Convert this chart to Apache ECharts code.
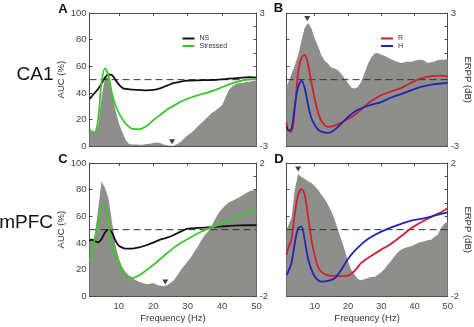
<!DOCTYPE html>
<html>
<head>
<meta charset="utf-8">
<script src="https://cdn.jsdelivr.net/npm/echarts@6/dist/echarts.min.js"></script>
<style>
  html, body { margin: 0; padding: 0; background: #fff; }
  #chart { width: 474px; height: 327px; }
</style>
</head>
<body>
<div id="chart"></div>
<script>
// Frequencies (Hz) at which the AUC curves are sampled
const lineFreq = [1.5, 2, 3, 4, 5, 6, 7, 8, 9, 10, 11, 12, 14, 16, 18, 20, 22, 24, 26, 28, 30, 33, 36, 39, 42, 45, 48, 50];
// Frequencies (Hz) at which the ERPP difference is sampled
const areaFreq = [1.5, 2, 3, 4, 5, 6, 7, 8, 9, 10, 11, 12, 13, 14, 15, 16, 17, 18, 19, 20, 21, 22, 23, 24, 25,
                  26, 27, 28, 29, 30, 31, 32, 33, 34, 35, 36, 37, 38, 39, 40, 41, 42, 43, 44, 45, 46, 47, 48, 49, 50];
const freqTicks = [10, 20, 30, 40, 50];
const chanceAUC = 50;

// CA1: AUC (%) for non-stressed and stressed animals
const aucNS_CA1 = [35.5, 37, 40, 43, 47, 51.5, 54, 53.5, 50, 46.5, 44, 43, 42.5, 42.3, 42, 42.3, 43.5, 45.5, 47.5, 48.5, 49.2, 49.5, 49.7, 50, 50.7, 51.3, 51.8, 51.5];
const aucStressed_CA1 = [13, 11.5, 10.5, 20, 48, 58.5, 53, 40, 31, 25, 20.5, 17, 13, 12.8, 15, 19.5, 23.5, 27.5, 30.5, 33.5, 35.8, 38.3, 40.5, 43.3, 46.5, 48.8, 50.2, 50.5];
// CA1: AUC (%) for resilient (R) and helpless (H) animals
const aucR_CA1 = [17.5, 12, 11, 28, 55, 66.5, 68.5, 61, 48, 35.5, 25.5, 19, 14.5, 15.5, 17.8, 20.5, 23.5, 27.5, 32, 35.5, 38.3, 41.2, 43.7, 47.7, 51, 52.6, 53, 52.5];
const aucH_CA1 = [15, 12, 13, 30, 44.5, 49.3, 43.5, 31, 21, 16, 12.5, 11, 10, 12.5, 17, 22, 26, 28.5, 30.5, 31.8, 33.2, 36.6, 39.2, 42, 44.5, 46.3, 47.1, 47.5];

// mPFC: AUC (%)
const aucNS_mPFC = [41.3, 42.5, 41.5, 40.5, 43, 47.8, 50, 48, 42, 38, 36.5, 35.8, 35.8, 36.7, 38.3, 40.3, 42.5, 44, 46, 48.5, 50.7, 51.3, 51.7, 52.2, 52.8, 53.2, 53.3, 53.3];
const aucStressed_mPFC = [25, 31, 43, 57, 67, 68.5, 53, 40, 30.5, 24, 19.5, 16, 13.8, 15.8, 19.5, 23.5, 27.8, 32.3, 36.5, 40, 43, 47.3, 50.8, 53.5, 56.7, 60, 63.2, 65];
const aucR_mPFC = [31, 36, 43, 62, 76, 80.5, 76, 60, 42.5, 30.5, 22, 18.3, 15.7, 15.2, 15.2, 15.5, 19, 25, 28.7, 32, 35, 39.5, 45, 51, 55.5, 59.5, 63, 66];
const aucH_mPFC = [16, 18.5, 25, 40, 51, 52.5, 42, 28, 20, 14.8, 12, 11, 11.5, 13.5, 20, 28, 34, 39, 43, 46, 48.5, 51.7, 54.4, 56.8, 58, 59.8, 61.8, 63];

// ERPP (dB), grey background of each panel
const erppStress_CA1 = [-2.35, -2.35, -2.35, -2.1, -0.8, 0.1, 0.1, -0.6, -1.35, -1.95, -2.35, -2.72, -2.9, -2.92, -2.92, -2.93, -2.93, -2.9, -2.88, -2.85,
                        -2.83, -2.85, -2.92, -2.95, -2.97, -2.97, -2.9, -2.8, -2.65, -2.5, -2.4, -2.25, -2.1, -1.95, -1.8, -1.65, -1.5, -1.4, -1.28, -1.15,
                        -0.8, -0.45, -0.3, -0.2, -0.15, -0.15, -0.1, -0.1, -0.05, -0.05];
const erppRH_CA1 = [-0.3, -0.15, 0.25, 0.65, 1.1, 1.75, 2.35, 2.55, 2.3, 1.85, 1.5, 1.1, 0.85, 0.72, 0.55, 0.5, 0.42, 0.25, 0.05, -0.15,
                    -0.35, -0.4, -0.33, -0.1, 0.3, 0.7, 1.0, 1.18, 1.2, 1.12, 1.08, 1.0, 0.92, 0.85, 0.8, 0.75, 0.78, 0.82, 0.8, 0.85,
                    0.88, 0.9, 0.85, 0.75, 0.78, 0.82, 0.88, 0.9, 0.9, 0.92];
const erppStress_mPFC = [-0.3, -0.3, -0.25, 0.6, 1.45, 1.25, 0.95, 0.25, -0.45, -0.85, -1.12, -1.28, -1.38, -1.45, -1.52, -1.57, -1.6, -1.63, -1.62, -1.6,
                         -1.65, -1.68, -1.7, -1.67, -1.6, -1.52, -1.37, -1.22, -1.08, -0.95, -0.82, -0.65, -0.5, -0.32, -0.15, -0.05, 0.12, 0.32, 0.5, 0.63,
                         0.73, 0.82, 0.87, 0.92, 0.97, 1.03, 1.1, 1.15, 1.18, 1.2];
const erppRH_mPFC = [0, 0.05, 0.35, 1.2, 1.68, 1.58, 1.52, 1.45, 1.4, 1.3, 1.2, 1.05, 0.92, 0.75, 0.55, 0.3, 0.0, -0.3, -0.6, -0.95,
                     -1.2, -1.35, -1.48, -1.52, -1.48, -1.45, -1.42, -1.42, -1.35, -1.28, -1.18, -1.05, -0.93, -0.8, -0.68, -0.6, -0.55, -0.52, -0.5, -0.45,
                     -0.4, -0.37, -0.35, -0.32, -0.3, -0.22, -0.15, 0.05, 0.18, 0.25];

// Peak-difference markers (frequency, dB) per panel
const peakFreq = [25.5, 7.75, 23.5, 5.0];
const peakDb = [-2.8, 2.75, -1.57, 1.82];

const FONT = '"Liberation Sans", Arial, Helvetica, sans-serif';
const AXIS_COLOR = '#4a4a4a';
const LABEL_COLOR = '#444';
const GREY = '#8e8e8a';
const COLORS = { NS: '#111111', Stressed: '#3cc72c', R: '#cf1f33', H: '#2324b8' };

const panels = [
  { left: 89.5, top: 13, dbMax: 3, aucLabels: true, erppName: false, freqLabels: false,
    lines: [['NS', aucNS_CA1], ['Stressed', aucStressed_CA1]], erpp: erppStress_CA1 },
  { left: 286.5, top: 13, dbMax: 3, aucLabels: false, erppName: true, freqLabels: false,
    lines: [['R', aucR_CA1], ['H', aucH_CA1]], erpp: erppRH_CA1 },
  { left: 89.5, top: 163, dbMax: 2, aucLabels: true, erppName: false, freqLabels: true,
    lines: [['NS', aucNS_mPFC], ['Stressed', aucStressed_mPFC]], erpp: erppStress_mPFC },
  { left: 286.5, top: 163, dbMax: 2, aucLabels: false, erppName: true, freqLabels: true,
    lines: [['R', aucR_mPFC], ['H', aucH_mPFC]], erpp: erppRH_mPFC }
];
const PW = 167, PH = 133.3;

const pairs = (xs, ys) => xs.map((x, i) => [x, ys[i]]);
const axisLine = { show: true, onZero: false, lineStyle: { color: AXIS_COLOR, width: 1 } };
const tick = { show: true, inside: true, length: 3, lineStyle: { color: AXIS_COLOR, width: 1 } };
const labelStyle = { fontFamily: FONT, fontSize: 9.5, color: LABEL_COLOR };
const nameStyle = { fontFamily: FONT, fontSize: 9.5, color: '#333' };

const grid = [], xAxis = [], yAxis = [], series = [];
panels.forEach((p, i) => {
  grid.push({ left: p.left, top: p.top, width: PW, height: PH });
  // bottom frequency axis
  xAxis.push({
    gridIndex: i, type: 'value', min: areaFreq[0], max: areaFreq[areaFreq.length - 1], position: 'bottom',
    axisLine, axisTick: Object.assign({ customValues: freqTicks }, tick),
    axisLabel: Object.assign({ show: p.freqLabels, customValues: freqTicks, margin: 5 }, labelStyle),
    splitLine: { show: false },
    name: p.freqLabels ? 'Frequency (Hz)' : '', nameLocation: 'middle', nameGap: 17, nameTextStyle: nameStyle
  });
  // top frame axis
  xAxis.push({
    gridIndex: i, type: 'value', min: areaFreq[0], max: areaFreq[areaFreq.length - 1], position: 'top',
    axisLine, axisTick: Object.assign({ customValues: freqTicks }, tick),
    axisLabel: { show: false }, splitLine: { show: false }
  });
  // AUC axis (left)
  yAxis.push({
    gridIndex: i, type: 'value', min: 0, max: 100, interval: 20, position: 'left',
    axisLine, axisTick: tick,
    axisLabel: Object.assign({ show: p.aucLabels, margin: 3 }, labelStyle),
    splitLine: { show: false },
    name: p.aucLabels ? 'AUC (%)' : '', nameLocation: 'middle', nameRotate: 90, nameGap: 16, nameTextStyle: nameStyle
  });
  // ERPP axis (right)
  const m = p.dbMax;
  yAxis.push({
    gridIndex: i, type: 'value', min: -m, max: m, interval: m / 5, position: 'right',
    axisLine, axisTick: tick,
    axisLabel: Object.assign({
      margin: 3,
      formatter: v => (Math.abs(Math.abs(v) - m) < 1e-6 ? String(Math.round(v)) : '')
    }, labelStyle),
    splitLine: { show: false },
    name: p.erppName ? 'ERPP (dB)' : '', nameLocation: 'middle', nameRotate: -90, nameGap: 11, nameTextStyle: nameStyle
  });

  series.push({
    type: 'line', name: 'ERPP', xAxisIndex: 2 * i, yAxisIndex: 2 * i + 1,
    data: pairs(areaFreq, p.erpp), symbol: 'none', silent: true, z: 1,
    lineStyle: { width: 0 }, areaStyle: { color: GREY, opacity: 1, origin: 'start' }
  });
  series.push({
    type: 'line', name: 'chance', xAxisIndex: 2 * i, yAxisIndex: 2 * i,
    data: [[areaFreq[0], chanceAUC], [areaFreq[areaFreq.length - 1], chanceAUC]],
    symbol: 'none', silent: true, z: 2,
    lineStyle: { color: '#333', width: 1, type: [7, 4] }
  });
  p.lines.forEach(([name, vals]) => {
    series.push({
      type: 'line', name, xAxisIndex: 2 * i, yAxisIndex: 2 * i,
      data: pairs(lineFreq, vals), symbol: 'none', smooth: 0.3, z: 3,
      color: COLORS[name], lineStyle: { color: COLORS[name], width: 1.8 }
    });
  });
  series.push({
    type: 'scatter', name: 'peak', xAxisIndex: 2 * i, yAxisIndex: 2 * i + 1,
    data: [[peakFreq[i], peakDb[i]]], symbol: 'triangle', symbolRotate: 180, symbolSize: [6, 5],
    itemStyle: { color: '#111' }, silent: true, z: 4
  });
});

const legendBase = {
  orient: 'vertical', icon: 'rect', itemWidth: 12, itemHeight: 2, itemGap: 0.5,
  padding: 0, selectedMode: false,
  textStyle: { fontFamily: FONT, fontSize: 7, color: '#333' }
};
const legend = [
  Object.assign({ left: 182.5, top: 35, data: ['NS', 'Stressed'] }, legendBase),
  Object.assign({ left: 381, top: 35, data: ['R', 'H'] }, legendBase)
];

const txt = (text, x, y, size, weight, align) => ({
  type: 'text', x, y, silent: true,
  style: { text, fontFamily: FONT, fontSize: size, fontWeight: weight, fill: '#111',
           textAlign: align, align, textVerticalAlign: 'middle', verticalAlign: 'middle' }
});

const chart = echarts.init(document.getElementById('chart'), null, { renderer: 'canvas' });
chart.setOption({
  animation: false,
  backgroundColor: '#fff',
  grid, xAxis, yAxis, series, legend,
  graphic: [
    txt('CA1', 53.5, 75, 19, 'normal', 'right'),
    txt('mPFC', 53, 223, 19, 'normal', 'right'),
    txt('A', 63, 9, 13, 'bold', 'center'),
    txt('B', 278.5, 8.5, 13, 'bold', 'center'),
    txt('C', 63, 159, 13, 'bold', 'center'),
    txt('D', 279, 159.5, 13, 'bold', 'center')
  ]
});
</script>
</body>
</html>
